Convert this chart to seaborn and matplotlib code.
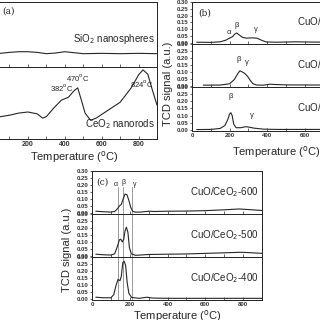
import numpy as np
import pandas as pd
import seaborn as sns
import matplotlib
matplotlib.use("Agg")
import matplotlib.pyplot as plt

# ---------------- data ----------------
# panel (a): relative signal, a.u.
T_sio2 = [0, 50, 100, 150, 200, 250, 300, 350, 400, 450, 500, 600, 700, 800, 900]
v_sio2 = [0.20, 0.21, 0.225, 0.235, 0.235, 0.225, 0.205, 0.215, 0.235, 0.22, 0.205, 0.21, 0.205, 0.21, 0.205]

T_ceo2 = [0, 50, 100, 150, 200, 250, 280, 300, 340, 382, 420, 450, 470, 490, 510, 540,
          570, 620, 700, 760, 800, 824, 850, 875, 900]
v_ceo2 = [0.29, 0.31, 0.33, 0.36, 0.375, 0.35, 0.29, 0.31, 0.43, 0.54, 0.58, 0.67, 0.71, 0.54,
          0.36, 0.26, 0.29, 0.375, 0.51, 0.71, 0.89, 0.96, 0.90, 0.68, 0.47]

# panel (b): CuO on SiO2
T_b1 = [25, 100, 150, 180, 200, 215, 228, 238, 250, 270, 290, 320, 345, 370, 395, 450, 550, 650, 900]
v_b1 = [0.005, 0.004, 0.008, 0.02, 0.035, 0.045, 0.065, 0.073, 0.06, 0.04, 0.035, 0.037, 0.035,
        0.02, 0.007, 0.005, 0.008, 0.006, 0.005]
T_b2 = [60, 150, 200, 225, 245, 255, 265, 280, 295, 310, 325, 345, 380, 415, 440, 500, 700, 900]
v_b2 = [0.005, 0.006, 0.015, 0.045, 0.09, 0.108, 0.102, 0.09, 0.07, 0.04, 0.015, 0.006, 0.005,
        0.012, 0.01, 0.007, 0.006, 0.006]
T_b3 = [25, 100, 150, 175, 190, 200, 207, 214, 222, 235, 260, 285, 300, 330, 380, 450, 900]
v_b3 = [0.002, 0.003, 0.01, 0.03, 0.07, 0.11, 0.12, 0.1, 0.04, 0.015, 0.015, 0.022, 0.02, 0.012,
        0.005, 0.003, 0.003]

# panel (c): CuO/CeO2 calcined at 600, 500, 400
T_c600 = [20, 60, 100, 120, 135, 145, 155, 165, 175, 185, 195, 205, 215, 230, 260, 300, 330,
          400, 500, 600, 700, 780, 850, 900]
v_c600 = [0.012, 0.008, 0.006, 0.01, 0.03, 0.05, 0.06, 0.1, 0.135, 0.13, 0.09, 0.04, 0.012,
          0.005, 0.006, 0.012, 0.01, 0.012, 0.013, 0.016, 0.022, 0.028, 0.022, 0.017]
T_c500 = [20, 60, 100, 120, 135, 145, 152, 160, 168, 175, 182, 190, 198, 208, 230, 300, 400,
          500, 600, 700, 790, 850, 900]
v_c500 = [0.012, 0.008, 0.006, 0.015, 0.07, 0.115, 0.12, 0.1, 0.12, 0.18, 0.205, 0.17, 0.06,
          0.015, 0.004, 0.01, 0.012, 0.014, 0.018, 0.022, 0.026, 0.022, 0.018]
T_c400 = [20, 60, 100, 115, 128, 138, 148, 155, 163, 170, 178, 186, 195, 210, 250, 290, 320,
          400, 600, 900]
v_c400 = [0.012, 0.008, 0.008, 0.03, 0.1, 0.14, 0.13, 0.16, 0.26, 0.27, 0.24, 0.12, 0.04,
          0.01, 0.004, 0.012, 0.006, 0.004, 0.004, 0.004]

lines_c = [137, 162, 210]  # alpha, beta, gamma positions in (c)
yticks = [0.00, 0.05, 0.10, 0.15, 0.20, 0.25, 0.30]

sns.set_theme(style="ticks")
plt.rcParams['font.family'] = ['Liberation Sans', 'DejaVu Sans']

W = H = 320
fig = plt.figure(figsize=(3.2, 3.2), dpi=100)


def add_ax(x0, y0, x1, y1):
    # pixel box -> figure coords
    return fig.add_axes([x0 / W, 1 - y1 / H, (x1 - x0) / W, (y1 - y0) / H])


lc = '#262626'
lw = 0.8


def style(ax, bottom=False, tsize=4.3, ticks=(0, 200, 400, 600, 800)):
    ax.set_xlim(0, 900)
    ax.set_xticks(list(ticks))
    ax.set_xticks(range(100, 901, 200), minor=True)
    ax.tick_params(axis='x', which='both', direction='in', length=2, width=0.5,
                   labelsize=tsize, pad=1.5, labelbottom=bottom)
    ax.tick_params(axis='y', which='both', direction='out', length=1.5, width=0.5,
                   labelsize=tsize, pad=1)
    for s in ax.spines.values():
        s.set_linewidth(0.7)
        s.set_color('#222222')
    for t in ax.get_xticklabels() + ax.get_yticklabels():
        t.set_fontweight('bold')
        t.set_color('#333333')
    ax.set_xlabel('')
    ax.set_ylabel('')


# ---------------- panel (a) ----------------
a1 = add_ax(-9, 2, 157, 67)
a2 = add_ax(-9, 67, 157, 139)
sns.lineplot(x=T_sio2, y=v_sio2, ax=a1, color=lc, lw=lw)
sns.lineplot(x=T_ceo2, y=v_ceo2, ax=a2, color=lc, lw=lw)
for ax in (a1, a2):
    ax.set_ylim(0, 1)
    ax.set_yticks([])
style(a1, ticks=(200, 400, 600, 800))
style(a2, bottom=True, tsize=5, ticks=(200, 400, 600, 800))
a1.text(0.065, 0.82, '(a)', transform=a1.transAxes, fontsize=6.5, family='serif')
a1.text(890, 0.38, 'SiO$_2$ nanospheres', ha='right', fontsize=7)
a2.text(890, 0.16, 'CeO$_2$ nanorods', ha='right', fontsize=7)
a2.text(382, 0.66, '382$^{\\rm o}$C', ha='center', fontsize=5.5)
a2.text(470, 0.80, '470$^{\\rm o}$C', ha='center', fontsize=5.5)
a2.text(820, 0.72, '824$^{\\rm o}$C', ha='center', fontsize=5.5)
a2.set_xlabel('Temperature ($^{\\rm o}$C)', fontsize=8, labelpad=1)

# ---------------- panel (b) ----------------
bx = [add_ax(192, 2, 361, 44), add_ax(192, 44, 361, 87), add_ax(192, 87, 361, 131)]
for ax, T, v in zip(bx, [T_b1, T_b2, T_b3], [v_b1, v_b2, v_b3]):
    sns.lineplot(x=T, y=v, ax=ax, color=lc, lw=lw)
    ax.set_ylim(-0.008, 0.30)
    ax.set_yticks(yticks)
for i, ax in enumerate(bx):
    style(ax, bottom=(i == 2))
bx[0].text(0.035, 0.68, '(b)', transform=bx[0].transAxes, fontsize=6.5, family='serif')
for ax, lab in zip(bx, ['CuO/SiO$_2$-600', 'CuO/SiO$_2$-500', 'CuO/SiO$_2$-400']):
    ax.text(560, 0.13, lab, fontsize=7)
kw = dict(ha='center', fontsize=5.5)
bx[0].text(197, 0.065, '\u03b1', **kw)
bx[0].text(236, 0.12, '\u03b2', **kw)
bx[0].text(340, 0.09, '\u03b3', **kw)
bx[1].text(250, 0.175, '\u03b2', **kw)
bx[1].text(290, 0.155, '\u03b3', **kw)
bx[2].text(208, 0.22, '\u03b2', **kw)
bx[2].text(320, 0.09, '\u03b3', **kw)
bx[2].set_xlabel('Temperature ($^{\\rm o}$C)', fontsize=8, labelpad=4)
fig.text(168 / W, 1 - 84 / H, 'TCD signal (a.u.)', rotation=90, ha='center', va='center', fontsize=8)

# ---------------- panel (c) ----------------
cx = [add_ax(92, 171, 262, 214), add_ax(92, 214, 262, 257), add_ax(92, 257, 262, 300)]
for ax, T, v in zip(cx, [T_c600, T_c500, T_c400], [v_c600, v_c500, v_c400]):
    sns.lineplot(x=T, y=v, ax=ax, color=lc, lw=lw)
    ax.set_ylim(-0.008, 0.30)
    ax.set_yticks(yticks)
    for k, xv in enumerate(lines_c):
        ax.axvline(xv, color='#9a9a9a', lw=0.7, ymax=(0.62 if ax is cx[0] else 1), zorder=1)
for i, ax in enumerate(cx):
    style(ax, bottom=(i == 2))
cx[0].text(0.025, 0.68, '(c)', transform=cx[0].transAxes, fontsize=6.5, family='serif')
for ax, lab in zip(cx, ['CuO/CeO$_2$-600', 'CuO/CeO$_2$-500', 'CuO/CeO$_2$-400']):
    ax.text(880, 0.13, lab, ha='right', fontsize=7)
kc = dict(ha='center', fontsize=5)
cx[0].text(124, 0.19, '\u03b1', **kc)
cx[0].text(166, 0.21, '\u03b2', **kc)
cx[0].text(228, 0.19, '\u03b3', **kc)
cx[2].set_xlabel('Temperature ($^{\\rm o}$C)', fontsize=8, labelpad=1)
fig.text(67 / W, 1 - 250 / H, 'TCD signal (a.u.)', rotation=90, ha='center', va='center', fontsize=8)

fig.savefig('out.png', dpi=100, facecolor='white')
